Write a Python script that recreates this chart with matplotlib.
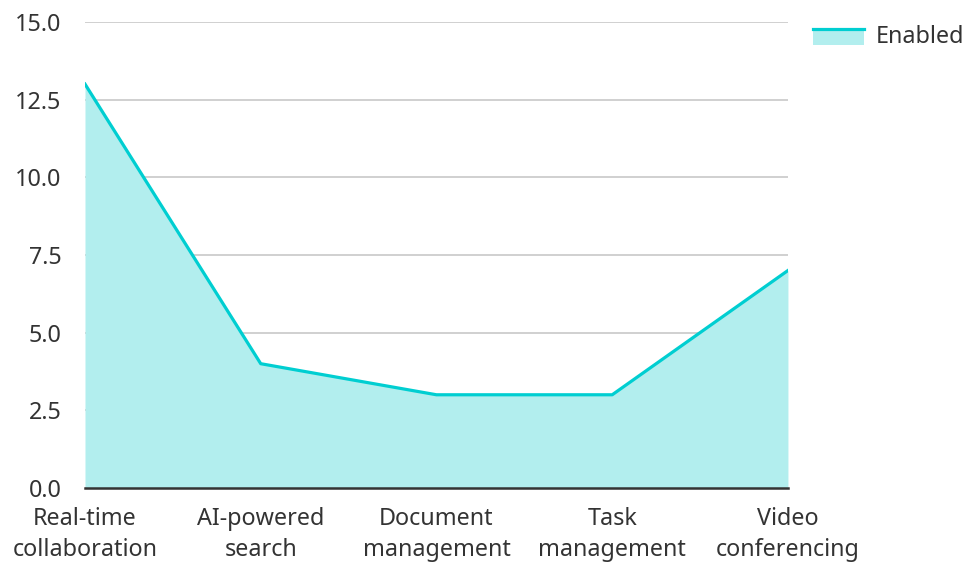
import matplotlib.pyplot as plt
from matplotlib.patches import Rectangle
from matplotlib.lines import Line2D

# Chart data
categories = ['Real-time\ncollaboration', 'AI-powered\nsearch', 'Document\nmanagement',
              'Task\nmanagement', 'Video\nconferencing']
enabled = [13, 4, 3, 3, 7]
y_ticks = [0, 2.5, 5, 7.5, 10, 12.5, 15]

plt.rcParams['font.family'] = ['Noto Sans', 'DejaVu Sans']

line_color = '#00CED1'
fill_color = '#B2EEEE'
text_color = '#333333'


# legend key: filled box with the line along its top edge
class AreaHandler:
    def legend_artist(self, legend, orig_handle, fontsize, handlebox):
        x0, y0 = handlebox.xdescent, handlebox.ydescent
        w, h = handlebox.width, handlebox.height
        top = y0 + h * 0.85
        patch = Rectangle((x0, y0 - h * 0.1), w, top - (y0 - h * 0.1),
                          facecolor=fill_color, edgecolor='none',
                          transform=handlebox.get_transform())
        line = Line2D([x0, x0 + w], [top, top], color=line_color, linewidth=2.3,
                      transform=handlebox.get_transform())
        handlebox.add_artist(patch)
        handlebox.add_artist(line)
        return patch


def plot_area(categories, values):
    fig = plt.figure(figsize=(9.68, 5.62), dpi=100)
    ax = fig.add_axes([0.0878, 0.1317, 0.7262, 0.8293])

    x = list(range(len(categories)))
    ax.fill_between(x, values, 0, color=fill_color, linewidth=0, zorder=2)
    area, = ax.plot(x, values, color=line_color, linewidth=2.3, zorder=3)

    ax.set_xlim(0, len(categories) - 1)
    ax.set_ylim(0, 15)
    ax.set_yticks(y_ticks)
    ax.set_yticklabels([f'{v:.1f}' for v in y_ticks])
    ax.set_xticks(x)
    ax.set_xticklabels(categories, linespacing=1.35)

    # grid and spines
    ax.grid(axis='y', color='#C8C8C8', linewidth=1.2, zorder=1)
    ax.set_axisbelow(True)
    for side in ['left', 'right', 'top']:
        ax.spines[side].set_visible(False)
    ax.spines['bottom'].set_color(text_color)
    ax.spines['bottom'].set_linewidth(1.8)
    ax.spines['bottom'].set_zorder(4)
    ax.tick_params(axis='both', length=0, labelsize=16.8, colors=text_color)
    ax.tick_params(axis='y', pad=17)
    ax.tick_params(axis='x', pad=14)

    fig.legend([area], ['Enabled'], loc='upper left', bbox_to_anchor=(0.818, 0.993),
               frameon=False, fontsize=16.8, handlelength=2.2, handletextpad=0.5,
               labelcolor=text_color, handler_map={Line2D: AreaHandler()})

    fig.savefig('out.png', dpi=100)


if __name__ == '__main__':
    plot_area(categories, enabled)
